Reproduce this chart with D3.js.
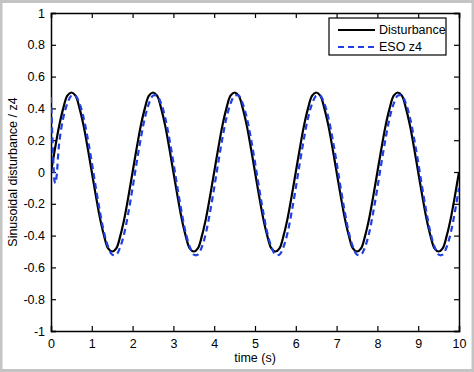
<!DOCTYPE html>
<html>
<head>
<meta charset="utf-8">
<script src="https://cdn.jsdelivr.net/npm/d3@7"></script>
<style>
  body { margin: 0; background: #fff; }
  svg { display: block; font-family: "Liberation Sans", Arial, sans-serif; }
</style>
</head>
<body>
<div id="chart"></div>
<script>
const periodDist = [0, 0.15, 0.29, 0.40, 0.48, 0.50, 0.48, 0.40, 0.29, 0.15,
  0, -0.15, -0.29, -0.40, -0.48, -0.50, -0.48, -0.40, -0.29, -0.15];
const periodEso = [-0.10, 0.06, 0.21, 0.34, 0.43, 0.48, 0.48, 0.43, 0.34, 0.21,
  0.06, -0.10, -0.25, -0.38, -0.47, -0.52, -0.52, -0.47, -0.38, -0.25];

const distTime = d3.range(0, 101).map(i => i / 10);
const distValue = distTime.map((t, i) => periodDist[i % 20]);

// start transient of the observer
const esoStartTime = [0, 0.03, 0.06, 0.09, 0.11, 0.14, 0.2, 0.3, 0.4];
const esoStartValue = [0.47, 0.25, 0.05, -0.06, -0.07, -0.02, 0.18, 0.34, 0.43];
const esoTime = esoStartTime.concat(d3.range(5, 101).map(i => i / 10));
const esoValue = esoStartValue.concat(d3.range(5, 101).map(i => periodEso[i % 20]));

const xTicks = d3.range(0, 11);
const yTicks = [-1, -0.8, -0.6, -0.4, -0.2, 0, 0.2, 0.4, 0.6, 0.8, 1];
const seriesNames = ['Disturbance', 'ESO z4'];

const width = 474, height = 372;
const margin = { top: 13, right: 15, bottom: 41, left: 51 };

const svg = d3.select('#chart').append('svg')
  .attr('width', width)
  .attr('height', height);

// outer frame of the figure
svg.append('rect')
  .attr('x', 1).attr('y', 1.5)
  .attr('width', width - 2).attr('height', height - 3)
  .attr('fill', 'none')
  .attr('stroke', '#c4c4c4')
  .attr('stroke-width', 3);

const x = d3.scaleLinear().domain([0, 10]).range([margin.left, width - margin.right]);
const y = d3.scaleLinear().domain([-1, 1]).range([height - margin.bottom, margin.top]);

const tick = 5;
const fmt = d => String(+d.toFixed(1)); // plain hyphen like MATLAB

// axes (MATLAB style, ticks inward on all sides)
svg.append('g')
  .attr('transform', `translate(0,${y(-1)})`)
  .call(d3.axisBottom(x).tickValues(xTicks).tickSize(-tick).tickPadding(8).tickFormat(fmt));
svg.append('g')
  .attr('transform', `translate(0,${y(1)})`)
  .call(d3.axisTop(x).tickValues(xTicks).tickSize(-tick).tickFormat(''));
svg.append('g')
  .attr('transform', `translate(${x(0)},0)`)
  .call(d3.axisLeft(y).tickValues(yTicks).tickSize(-tick).tickPadding(6).tickFormat(fmt));
svg.append('g')
  .attr('transform', `translate(${x(10)},0)`)
  .call(d3.axisRight(y).tickValues(yTicks).tickSize(-tick).tickFormat(''));

svg.selectAll('.domain').attr('stroke', '#000').attr('stroke-width', 1.5);
svg.selectAll('.tick line').attr('stroke', '#000').attr('stroke-width', 1.2);
svg.selectAll('.tick text').attr('font-size', 12.5).attr('fill', '#000');

const line = d3.line().curve(d3.curveCatmullRom.alpha(0.5));

svg.append('clipPath').attr('id', 'clip').append('rect')
  .attr('x', x(0)).attr('y', y(1))
  .attr('width', x(10) - x(0)).attr('height', y(-1) - y(1));

svg.append('path')
  .attr('clip-path', 'url(#clip)')
  .attr('d', line(distTime.map((t, i) => [x(t), y(distValue[i])])))
  .attr('fill', 'none')
  .attr('stroke', '#000')
  .attr('stroke-width', 2.2);

svg.append('path')
  .attr('clip-path', 'url(#clip)')
  .attr('d', line(esoTime.map((t, i) => [x(t), y(esoValue[i])])))
  .attr('fill', 'none')
  .attr('stroke', '#1f3fe6')
  .attr('stroke-width', 2.2)
  .attr('stroke-dasharray', '6,4');

// legend
const legend = svg.append('g');
legend.append('rect')
  .attr('x', 329).attr('y', 18)
  .attr('width', 117).attr('height', 37)
  .attr('fill', '#fff')
  .attr('stroke', '#000')
  .attr('stroke-width', 1.2);

seriesNames.forEach((name, i) => {
  const ly = 30 + i * 17;
  legend.append('line')
    .attr('x1', 338).attr('x2', 375)
    .attr('y1', ly).attr('y2', ly)
    .attr('stroke', i === 0 ? '#000' : '#1f3fe6')
    .attr('stroke-width', 2.2)
    .attr('stroke-dasharray', i === 0 ? null : '6,4');
  legend.append('text')
    .attr('x', 379).attr('y', ly + 4)
    .attr('font-size', 12.5)
    .text(name);
});

// axis titles
svg.append('text')
  .attr('x', x(5)).attr('y', 362)
  .attr('text-anchor', 'middle')
  .attr('font-size', 12.5)
  .text('time (s)');

svg.append('text')
  .attr('transform', `translate(17,${y(0)}) rotate(-90)`)
  .attr('text-anchor', 'middle')
  .attr('font-size', 12.5)
  .text('Sinusoidal disturbance / z4');
</script>
</body>
</html>
